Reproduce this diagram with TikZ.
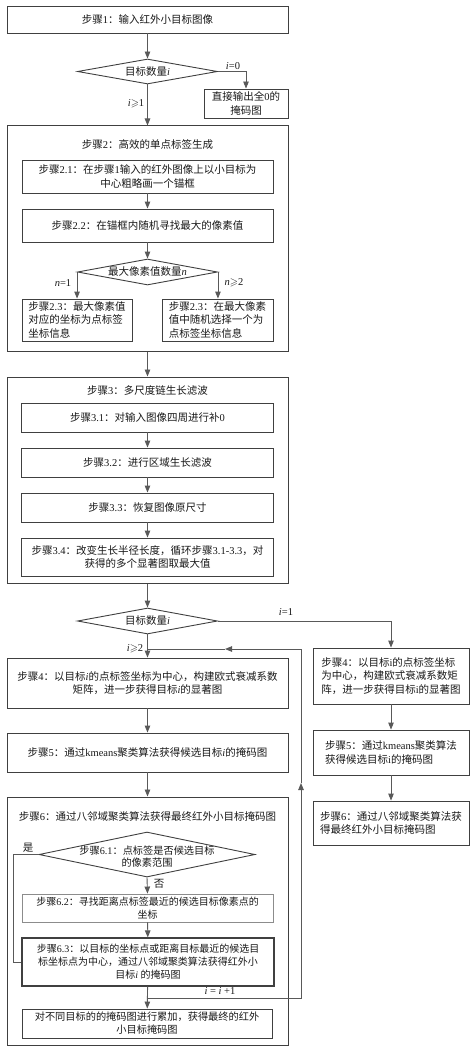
\documentclass[tikz,border=0pt]{standalone}
\usepackage{amssymb}
\usepackage{fontspec}
\setmainfont{Noto Sans CJK SC}
\newfontfamily\lat{Liberation Serif}
\usetikzlibrary{arrows.meta,shapes.geometric}
\newcommand\ltn[1]{{\lat #1}}
\newcommand\myi{{\lat\itshape i}}
\newcommand\myn{{\lat\itshape n}}
\begin{document}
\begin{tikzpicture}[x=1pt,y=-1pt,
 every node/.style={font=\fontsize{10.5pt}{13.5pt}\selectfont, text=black!90},
 box/.style={draw=black!75, line width=0.9pt, inner sep=1pt, align=center},
 cont/.style={draw=black!75, line width=1pt},
 dia/.style={draw=black!75, line width=0.9pt, shape=diamond, inner sep=0pt},
 conn/.style={draw=black!65, line width=0.9pt},
 arr/.style={conn, -{Triangle[length=7pt,width=5.5pt]}},
 lbl/.style={inner sep=1pt},
 wh/.style 2 args={minimum width=#1pt, minimum height=#2pt}]
\useasboundingbox (0,0) rectangle (474,1051);
\fill[white] (0,0) rectangle (474,1051);

% step 1
\node[box, wh={281}{27}] (s1) at (147.5,19.5) {步骤\ltn{1}：输入红外小目标图像};
\node[dia, wh={140}{25}] (d1) at (147.5,71.5) {};
\node at (d1) {目标数量\myi};
\node[box, wh={84}{29}, inner sep=0pt] (z0) at (246,103.5) {直接输出全\ltn{0}的\\掩码图};

% step 2
\node[cont, wh={281}{225}] (c2) at (147.5,238.5) {};
\node (t2) at (147.5,145) {步骤\ltn{2}：高效的单点标签生成};
\node[box, wh={251}{33}] (b21) at (147.5,176.5) {步骤\ltn{2.1}：在步骤\ltn{1}输入的红外图像上以小目标为\\中心粗略画一个锚框};
\node[box, wh={251}{33}] (b22) at (147.5,225.5) {步骤\ltn{2.2}：在锚框内随机寻找最大的像素值};
\node[dia, wh={140}{26}] (d2) at (147.5,272) {};
\node at (d2) {最大像素值数量\myn};
\node[box, wh={110}{42}, align=left] (b23a) at (77,320) {步骤\ltn{2.3}：最大像素值\\对应的坐标为点标签\\坐标信息};
\node[box, wh={111}{42}, align=left] (b23b) at (217.5,320) {步骤\ltn{2.3}：在最大像素\\值中随机选择一个为\\点标签坐标信息};

% step 3
\node[cont, wh={281}{206}] (c3) at (147.5,480) {};
\node (t3) at (147.5,391) {步骤\ltn{3}：多尺度链生长滤波};
\node[box, wh={252}{29}] (b31) at (147.5,417.5) {步骤\ltn{3.1}：对输入图像四周进行补\ltn{0}};
\node[box, wh={252}{29}] (b32) at (147.5,462.5) {步骤\ltn{3.2}：进行区域生长滤波};
\node[box, wh={252}{29}] (b33) at (147.5,507.5) {步骤\ltn{3.3}：恢复图像原尺寸};
\node[box, wh={252}{38}] (b34) at (147.5,557) {步骤\ltn{3.4}：改变生长半径长度，循环步骤\ltn{3.1-3.3}，对\\获得的多个显著图取最大值};

% decision 3
\node[dia, wh={140}{26}] (d3) at (147.5,621) {};
\node at (d3) {目标数量\myi};

% left branch
\node[box, wh={281}{50}] (b4) at (147.5,683) {步骤\ltn{4}：以目标\myi 的点标签坐标为中心，构建欧式衰减系数\\矩阵，进一步获得目标\myi 的显著图};
\node[box, wh={281}{39}] (b5) at (147.5,752.5) {步骤\ltn{5}：通过\ltn{kmeans}聚类算法获得候选目标\myi 的掩码图};

% right branch
\node[box, wh={156}{56}, align=left] (r4) at (391,676) {步骤\ltn{4}：以目标\ltn{i}的点标签坐标\\为中心，构建欧式衰减系数矩\\阵，进一步获得目标\ltn{i}的显著图};
\node[box, wh={156}{45}, align=left] (r5) at (391,752.5) {步骤\ltn{5}：通过\ltn{kmeans}聚类算法\\获得候选目标\ltn{i}的掩码图};
\node[box, wh={156}{44}, align=left] (r6) at (391,823) {步骤\ltn{6}：通过八邻域聚类算法获\\得最终红外小目标掩码图};

% step 6
\node[cont, wh={281}{248}] (c6) at (147.5,921) {};
\node (t6) at (147.5,817) {步骤\ltn{6}：通过八邻域聚类算法获得最终红外小目标掩码图};
\node[dia, wh={216}{45}] (d61) at (147,854.5) {};
\node[align=center, font=\fontsize{10.2pt}{12pt}\selectfont] at (147,857) {步骤\ltn{6.1}：点标签是否候选目标\\的像素范围};
\node[box, wh={251}{28}, draw=black!45, font=\fontsize{10pt}{12.5pt}\selectfont] (b62) at (147.5,908) {步骤\ltn{6.2}：寻找距离点标签最近的候选目标像素点的\\坐标};
\node[box, wh={252}{48}, line width=1.2pt, font=\fontsize{10pt}{13pt}\selectfont] (b63) at (148,962) {步骤\ltn{6.3}：以目标的坐标点或距离目标最近的候选目\\标坐标点为中心，通过八邻域聚类算法获得红外小\\目标\myi\ 的掩码图};
\node[box, wh={250}{29}, font=\fontsize{10.2pt}{13pt}\selectfont] (bf) at (147,1023.5) {对不同目标的的掩码图进行累加，获得最终的红外\\小目标掩码图};

% connectors
\draw[arr] (s1) -- (d1);
\draw[arr] (d1.east) -| (z0.north);
\node[lbl] at (233,66) {\myi\ltn{=0}};
\draw[arr] (d1) -- (c2.north);
\node[lbl] at (136,104) {\myi$\geqslant$\ltn{1}};
\draw[arr] (b21) -- (b22);
\draw[arr] (b22) -- (d2);
\draw[arr] (d2.west) -- (d2.west |- b23a.north);
\draw[arr] (d2.east) -- (d2.east |- b23b.north);
\node[lbl] at (63,283) {\myn\ltn{=1}};
\node[lbl] at (234,283) {\myn$\geqslant$\ltn{2}};
\draw[arr] (c2.south) -- (c3.north);
\draw[arr] (b31) -- (b32);
\draw[arr] (b32) -- (b33);
\draw[arr] (b33) -- (b34);
\draw[arr] (c3.south) -- (d3);
\draw[arr] (d3.east) -| (r4.north);
\node[lbl] at (286,612) {\myi\ltn{=1}};
\draw[arr] (d3) -- (b4);
\node[lbl] at (135,649) {\myi$\geqslant$\ltn{2}};
\draw[arr] (b4) -- (b5);
\draw[arr] (b5) -- (c6.north);
\draw[arr] (r4) -- (r5);
\draw[arr] (r5) -- (r6);

% yes / no in step 6
\coordinate (y1) at (13,854.5);
\coordinate (y2) at (13,962);
\draw[conn] (d61.west) -- (y1) -- (y2) -- (b63.west);
\node[lbl] at (28,848) {是};
\draw[arr] (d61.south) -- (b62.north);
\node[lbl] at (159,884) {否};
\draw[arr] (b62) -- (b63);
\draw[arr] (b63) -- (bf);

% loop i = i + 1
\coordinate (j1) at (147.5,998);
\coordinate (j2) at (301,998);
\coordinate (ja) at (301,783);
\coordinate (j3) at (301,649);
\coordinate (jb) at (225,649);
\coordinate (j4) at (147.5,649);
\draw[arr] (j1) -- (j2) -- (ja);
\draw[arr] (ja) -- (j3) -- (jb);
\draw[conn] (jb) -- (j4);
\node[lbl] at (220,991) {\myi{\lat\ =\ }\myi{\lat\ +1}};
\end{tikzpicture}
\end{document}
